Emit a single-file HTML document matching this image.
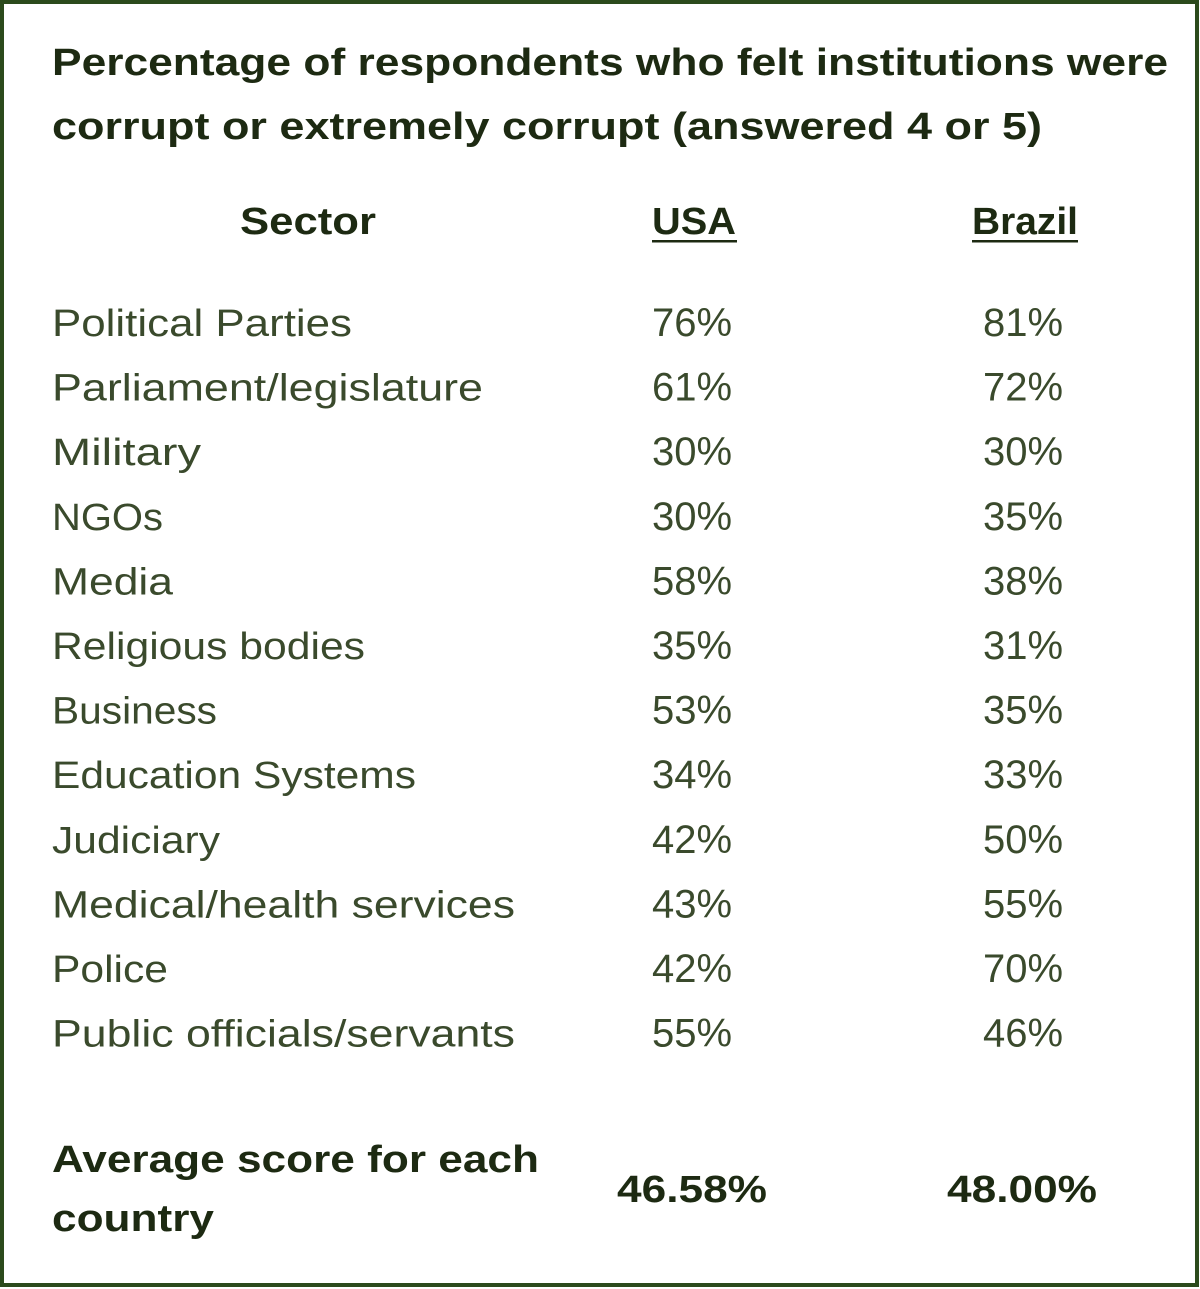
<!DOCTYPE html>
<html><head><meta charset="utf-8"><style>
html,body{margin:0;padding:0;background:#fff;}
svg{display:block;}
text{font-family:"Liberation Sans",sans-serif;}
</style></head><body>
<svg id="chart" width="1200" height="1289" viewBox="0 0 1200 1289">
<rect x="2" y="2" width="1195" height="1283" fill="#fff" stroke="#2b4a1c" stroke-width="4"/>
<g fill="#1d2a12" font-weight="bold" font-size="38">
<text x="52" y="75" textLength="1116" lengthAdjust="spacingAndGlyphs">Percentage of respondents who felt institutions were</text>
<text x="52" y="139" textLength="990" lengthAdjust="spacingAndGlyphs">corrupt or extremely corrupt (answered 4 or 5)</text>
<text x="308" y="234" text-anchor="middle" textLength="136" lengthAdjust="spacingAndGlyphs">Sector</text>
<text x="694" y="234" text-anchor="middle" textLength="84" lengthAdjust="spacingAndGlyphs">USA</text>
<text x="1025" y="234" text-anchor="middle" textLength="106" lengthAdjust="spacingAndGlyphs">Brazil</text>
<rect x="652" y="240" width="85" height="2.5"/>
<rect x="972" y="240" width="106" height="2.5"/>
<text x="52" y="1172" textLength="487" lengthAdjust="spacingAndGlyphs">Average score for each</text>
<text x="52" y="1231" textLength="162" lengthAdjust="spacingAndGlyphs">country</text>
<text x="692" y="1202" text-anchor="middle" textLength="150" lengthAdjust="spacingAndGlyphs">46.58%</text>
<text x="1022" y="1202" text-anchor="middle" textLength="150" lengthAdjust="spacingAndGlyphs">48.00%</text>
</g>
<g id="rows"></g>
</svg>
<script>
const sectors = ["Political Parties","Parliament/legislature","Military","NGOs","Media","Religious bodies","Business","Education Systems","Judiciary","Medical/health services","Police","Public officials/servants"];
const usaValues = [76,61,30,30,58,35,53,34,42,43,42,55];
const brazilValues = [81,72,30,35,38,31,35,33,50,55,70,46];
const labelWidths = [300,431,149,111,121,313,165,364,168,463,116,463];
const g = document.getElementById('rows');
const NS = "http://www.w3.org/2000/svg";
function rowY(i){ return 336 + i*64.6; }
sectors.forEach((s,i)=>{
  const t = document.createElementNS(NS,'text');
  t.setAttribute('x',52); t.setAttribute('y',rowY(i));
  t.setAttribute('font-size','38'); t.setAttribute('fill','#3a4a2c');
  t.setAttribute('textLength',labelWidths[i]); t.setAttribute('lengthAdjust','spacingAndGlyphs');
  t.textContent = s;
  
  
  g.appendChild(t);
  [[usaValues[i],692,'usa-value'],[brazilValues[i],1023,'brazil-value']].forEach(([v,x,n])=>{
    const c = document.createElementNS(NS,'text');
    c.setAttribute('x',x); c.setAttribute('y',rowY(i));
    c.setAttribute('font-size','40'); c.setAttribute('fill','#3a4a2c');
    c.setAttribute('text-anchor','middle');
    c.textContent = v + '%';
    
    
    g.appendChild(c);
  });
});
</script>
</body></html>
